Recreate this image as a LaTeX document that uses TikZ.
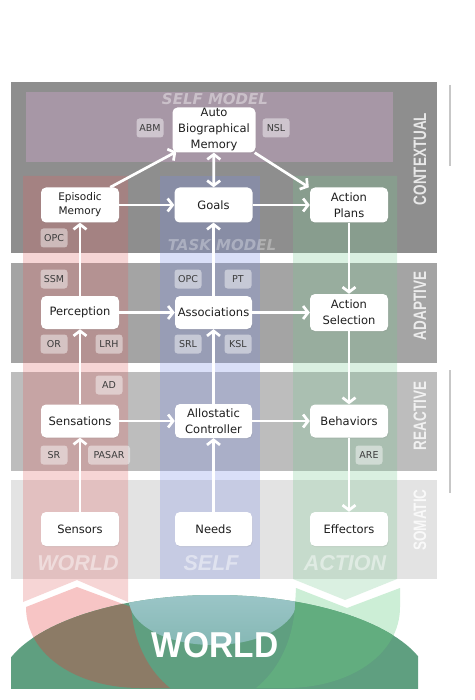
\documentclass[tikz,border=0pt]{standalone}
\usepackage{fontspec}
\setmainfont{DejaVu Sans}
\newfontfamily\libsans{Liberation Sans}
\usepackage{graphicx}
\usetikzlibrary{arrows.meta,shadows}
\definecolor{ctxc}{RGB}{142,142,142}
\definecolor{adpc}{RGB}{164,164,164}
\definecolor{reac}{RGB}{189,189,189}
\definecolor{somc}{RGB}{227,227,227}
\definecolor{selfmc}{RGB}{167,151,166}
\definecolor{redc}{RGB}{225,100,100}
\definecolor{bluec}{RGB}{120,140,230}
\definecolor{greenc}{RGB}{120,200,145}
\definecolor{pinklobe}{RGB}{247,197,197}
\definecolor{greenlobe}{RGB}{204,238,214}
\definecolor{domec}{RGB}{95,159,128}
\definecolor{brownc}{RGB}{140,123,102}
\definecolor{bluelobe}{RGB}{150,195,203}
\definecolor{greenover}{RGB}{98,173,127}
\definecolor{nodetext}{RGB}{30,30,30}
\definecolor{tagtext}{RGB}{60,60,60}
\begin{document}
\begin{tikzpicture}[x=1pt,y=-1pt,
  box/.style={fill=white, rounded corners=5pt, minimum width=78pt, minimum height=34pt,
    align=center, inner sep=1pt, text=nodetext, font=\fontsize{11.5}{16}\selectfont,
    drop shadow={opacity=0.15, shadow xshift=0.6pt, shadow yshift=-1pt}},
  tag/.style={fill=white, fill opacity=0.45, text opacity=1, text=tagtext, rounded corners=3pt,
    minimum width=27pt, minimum height=19pt, inner sep=1.5pt, font=\fontsize{9.5}{11}\selectfont},
  arr/.style={draw=white, line width=2.7pt, -{Straight Barb[length=5pt,width=13pt]}},
  darr/.style={draw=white, line width=2.7pt, {Straight Barb[length=5pt,width=13pt]}-{Straight Barb[length=5pt,width=13pt]}},
  layerlabel/.style={rotate=90, text=white, text opacity=0.8, inner sep=0pt,
    font=\libsans\bfseries\fontsize{18}{18}\selectfont},
  collabel/.style={text=white, text opacity=0.45, inner sep=0pt,
    font=\libsans\bfseries\itshape\fontsize{21.5}{22}\selectfont},
  modellabel/.style={text=white, inner sep=0pt,
    font=\bfseries\itshape\fontsize{15}{15}\selectfont},
  colfill/.style={fill=#1, fill opacity=0.27}
]
\useasboundingbox (0,0) rectangle (474,700);
\fill[white] (0,0) rectangle (474,700);

% layer bands
\fill[ctxc] (11,82) rectangle (437,253.5);
\fill[adpc] (11,263) rectangle (437,362.5);
\fill[reac] (11,372) rectangle (437,470.5);
\fill[somc] (11,480) rectangle (437,579);

% self model
\fill[selfmc] (26,92) rectangle (393,162);

% columns
\fill[colfill=redc] (23,176) -- (128,176) -- (128,602) -- (77,580) -- (23,602) -- cycle;
\fill[colfill=bluec] (160,176) rectangle (260,579);
\fill[colfill=greenc] (293,176) -- (397,176) -- (397,579) -- (345,600) -- (293,579) -- cycle;

% bottom world
\fill[pinklobe] (26,607) -- (77,587) -- (131,607) .. controls (134,645) and (150,672) .. (170,688)
   -- (140,688) .. controls (77,688) and (26,655) .. cycle;
\fill[greenlobe] (296,588) -- (347,608) -- (400,588) -- (400,607) .. controls (400,655) and (349,688) .. (286,688)
   -- (256,688) .. controls (276,672) and (292,645) .. (295,607) -- cycle;
\begin{scope}
  \clip (11,540) rectangle (418,688);
  \fill[domec] (215,688) ellipse [x radius=216pt, y radius=93pt];
  \clip (215,688) ellipse [x radius=216pt, y radius=93pt];
  \fill[brownc] (26,607) -- (77,587) -- (131,607) .. controls (134,645) and (150,672) .. (170,688)
   -- (140,688) .. controls (77,688) and (26,655) .. cycle;
  \shade[top color=bluelobe!80!white, bottom color=bluelobe!70!domec] (213,600) ellipse [x radius=84pt, y radius=45pt];
  \fill[greenover] (296,588) -- (347,608) -- (400,588) -- (400,607) .. controls (400,655) and (349,688) .. (286,688)
   -- (256,688) .. controls (276,672) and (292,645) .. (295,607) -- cycle;
\end{scope}
\node[text=white, inner sep=0pt, font=\libsans\bfseries\fontsize{36}{36}\selectfont] (worldbig) at (215,645) {\scalebox{0.93}[1]{WORLD}};

% side thin lines
\draw[black!22, line width=1.3pt] (450,85) -- (450,166);
\draw[black!22, line width=1.3pt] (450,370) -- (450,493);

% labels
\node[modellabel, text opacity=0.4] (selfmodel) at (215,99) {SELF MODEL};
\node[modellabel, text opacity=0.3] (taskmodel) at (222,245) {TASK MODEL};
\node[collabel] (lworld) at (78,563) {WORLD};
\node[collabel] (lself) at (211,563) {SELF};
\node[collabel] (laction) at (345,563) {ACTION};
\node[layerlabel] (lctx) at (420,159) {\scalebox{0.75}[1]{CONTEXTUAL}};
\node[layerlabel] (ladp) at (420,306) {\scalebox{0.75}[1]{ADAPTIVE}};
\node[layerlabel] (lrea) at (420,416) {\scalebox{0.75}[1]{REACTIVE}};
\node[layerlabel] (lsom) at (420,520) {\scalebox{0.75}[1]{SOMATIC}};

% main nodes
\node[box, minimum width=83pt, minimum height=45pt] (abm) at (214,130) {Auto\\Biographical\\Memory};
\node[box, minimum height=35pt, font=\fontsize{10.5}{14}\selectfont] (epi) at (80,205) {Episodic\\Memory};
\node[box, minimum height=35pt] (goals) at (213.5,205) {Goals};
\node[box, minimum height=35pt] (ap) at (349,205) {Action\\Plans};
\node[box, minimum height=33pt] (perc) at (80,312.5) {Perception};
\node[box, minimum width=77pt, minimum height=33pt] (assoc) at (213.5,312.5) {Associations};
\node[box, minimum height=37pt] (asel) at (349,312.5) {Action\\Selection};
\node[box, minimum height=33pt] (sens) at (80,421) {Sensations};
\node[box, minimum width=77pt, minimum height=34pt] (allo) at (213.5,421) {Allostatic\\Controller};
\node[box, minimum height=33pt] (beh) at (349,421) {Behaviors};
\node[box, minimum height=34pt] (sensors) at (80,529) {Sensors};
\node[box, minimum width=77pt, minimum height=34pt] (needs) at (213.5,529) {Needs};
\node[box, minimum height=34pt] (eff) at (349,529) {Effectors};

% tags
\node[tag] (tabm) at (150,128) {ABM};
\node[tag] (tnsl) at (276,128) {NSL};
\node[tag] (topc1) at (54,238) {OPC};
\node[tag] (tssm) at (54,279) {SSM};
\node[tag] (topc2) at (188,279) {OPC};
\node[tag] (tpt) at (238,279) {PT};
\node[tag] (tor) at (54,344) {OR};
\node[tag] (tlrh) at (109,344) {LRH};
\node[tag] (tsrl) at (188,344) {SRL};
\node[tag] (tksl) at (238,344) {KSL};
\node[tag] (tad) at (109,385) {AD};
\node[tag] (tsr) at (54,455) {SR};
\node[tag, minimum width=42pt] (tpasar) at (109,455) {PASAR};
\node[tag] (tare) at (369,455) {ARE};

% arrows
\draw[arr] ([xshift=-9pt]epi.north east) -- ([xshift=4pt,yshift=1pt]abm.south west);
\draw[darr] (abm) -- (goals);
\draw[arr] ([xshift=-1pt]abm.south east) -- ([xshift=-1pt]ap.north west);
\draw[arr] (epi) -- (goals);
\draw[arr] (goals) -- (ap);
\draw[arr] (perc) -- (epi);
\draw[arr] (assoc) -- (goals);
\draw[arr] (ap) -- (asel);
\draw[arr] (perc) -- (assoc);
\draw[arr] (assoc) -- (asel);
\draw[arr] (sens) -- (perc);
\draw[arr] (allo) -- (assoc);
\draw[arr] (asel) -- (beh);
\draw[arr] (sens) -- (allo);
\draw[arr] (allo) -- (beh);
\draw[arr] (sensors) -- (sens);
\draw[arr] (needs) -- (allo);
\draw[arr] (beh) -- (eff);
\end{tikzpicture}
\end{document}
